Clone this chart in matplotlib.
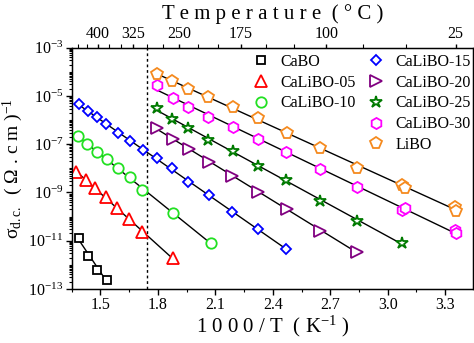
import numpy as np
import matplotlib
matplotlib.use("Agg")
import matplotlib.pyplot as plt
from matplotlib.lines import Line2D
from matplotlib.ticker import FixedLocator, NullFormatter, FuncFormatter

plt.rcParams['font.family'] = ['Liberation Serif', 'DejaVu Serif']
plt.rcParams['mathtext.fontset'] = 'custom'
plt.rcParams['mathtext.rm'] = 'Liberation Serif'
plt.rcParams['mathtext.it'] = 'Liberation Serif:italic'
plt.rcParams['mathtext.bf'] = 'Liberation Serif:bold'

# 1000/T (K^-1) and log10(sigma_dc)
cabo_x = [1.387, 1.436, 1.484, 1.536]
cabo_y = [-10.87, -11.63, -12.21, -12.63]

c05_x = [1.374, 1.426, 1.471, 1.527, 1.588, 1.649, 1.715, 1.880]
c05_y = [-8.14, -8.48, -8.83, -9.20, -9.66, -10.10, -10.63, -11.73]

c10_x = [1.385, 1.432, 1.480, 1.536, 1.591, 1.652, 1.719, 1.880, 2.075]
c10_y = [-6.66, -7.00, -7.31, -7.63, -8.00, -8.37, -8.90, -9.86, -11.08]

c15_x = [1.388, 1.435, 1.480, 1.531, 1.591, 1.652, 1.724, 1.793, 1.875,
         1.956, 2.066, 2.188, 2.320, 2.471]
c15_y = [-5.35, -5.62, -5.88, -6.17, -6.52, -6.87, -7.24, -7.58, -8.00,
         -8.55, -9.10, -9.80, -10.53, -11.34]

c20_x = [1.797, 1.878, 1.961, 2.066, 2.189, 2.322, 2.475, 2.645, 2.840]
c20_y = [-6.34, -6.78, -7.21, -7.72, -8.31, -8.96, -9.70, -10.58, -11.45]

c25_x = [1.793, 1.875, 1.958, 2.063, 2.190, 2.320, 2.471, 2.648, 2.840, 3.075]
c25_y = [-5.49, -5.97, -6.34, -6.83, -7.27, -7.90, -8.48, -9.34, -10.17, -11.08]

c30_x = [1.797, 1.878, 1.958, 2.063, 2.190, 2.320, 2.471, 2.645, 2.840,
         3.075, 3.092, 3.353, 3.355]
c30_y = [-4.55, -5.07, -5.45, -5.86, -6.27, -6.79, -7.32, -8.03, -8.79,
         -9.73, -9.66, -10.56, -10.69]

libo_x = [1.797, 1.875, 1.958, 2.063, 2.190, 2.320, 2.475, 2.645, 2.838,
          3.075, 3.092, 3.353, 3.357]
libo_y = [-4.09, -4.37, -4.72, -5.06, -5.45, -5.91, -6.52, -7.17, -8.00,
          -8.69, -8.80, -9.59, -9.77]

names = ['CaBO', 'CaLiBO-05', 'CaLiBO-10', 'CaLiBO-15', 'CaLiBO-20',
         'CaLiBO-25', 'CaLiBO-30', 'LiBO']
xs = [cabo_x, c05_x, c10_x, c15_x, c20_x, c25_x, c30_x, libo_x]
ys = [cabo_y, c05_y, c10_y, c15_y, c20_y, c25_y, c30_y, libo_y]
markers = ['s', '^', 'o', 'D', '>', '*', 'h', 'p']
sizes = [6.0, 8.0, 7.5, 5.6, 8.0, 9.0, 8.0, 8.5]
colors = ['black', '#ff0000', '#22e022', '#0000ff', '#800080', '#007a00',
          '#ff00ff', '#f58a1f']

temps_major = [400, 325, 250, 175, 100, 25]
temps_minor = list(range(450, 0, -25))

fig = plt.figure(figsize=(4.74, 3.43), dpi=100)
ax = fig.add_axes([0.1513, 0.1574, 0.8466, 0.7035])

handles = {}
for name, x, y, m, s, c in zip(names, xs, ys, markers, sizes, colors):
    x = np.array(x)
    y = np.array(y)
    p = np.polyfit(x, y, 1)
    xf = np.array([x.min(), x.max()])
    ax.plot(xf, 10 ** np.polyval(p, xf), color='black', lw=1.0, zorder=2)
    h, = ax.plot(x, 10 ** y, linestyle='none', marker=m, ms=s, mfc='white',
                 mec=c, mew=1.3, zorder=3, label=name)
    handles[name] = h

ax.axvline(1000 / (300 + 273.15), color='black', ls=(0, (2, 2)), lw=1.0,
           zorder=1)

ax.set_yscale('log')
ax.set_ylim(1e-13, 1e-3)
ax.set_xlim(1.35, 3.445)

ax.xaxis.set_major_locator(FixedLocator([1.5, 1.8, 2.1, 2.4, 2.7, 3.0, 3.3]))
ax.xaxis.set_minor_locator(FixedLocator([1.35, 1.65, 1.95, 2.25, 2.55, 2.85,
                                         3.15]))
ax.xaxis.set_major_formatter(FuncFormatter(lambda v, pos: f'{v:.1f}'))

ymaj = [10.0 ** e for e in range(-13, -2, 2)]
ymin = []
for e in range(-13, -3):
    for k in range(1, 10):
        if k == 1 and e % 2 != 0:
            continue
        ymin.append(k * 10.0 ** e)
ax.yaxis.set_major_locator(FixedLocator(ymaj))
ax.yaxis.set_minor_locator(FixedLocator(ymin))
ax.yaxis.set_minor_formatter(NullFormatter())
ax.yaxis.set_major_formatter(
    FuncFormatter(lambda v, pos: r'$\mathdefault{10^{%d}}$' % round(np.log10(v))))

ax.tick_params(which='major', direction='out', length=4, width=1.0,
               labelsize=11.5, pad=2)
ax.tick_params(which='minor', direction='out', length=2.5, width=0.8)
for sp in ax.spines.values():
    sp.set_linewidth(1.0)

ax2 = ax.twiny()
ax2.set_xlim(ax.get_xlim())
ax2.xaxis.set_major_locator(FixedLocator([1000 / (t + 273.15) for t in temps_major]))
ax2.xaxis.set_minor_locator(FixedLocator([1000 / (t + 273.15) for t in temps_minor]))
ax2.set_xticklabels([str(t) for t in temps_major])
ax2.tick_params(which='major', direction='out', length=3, width=1.0,
                labelsize=11.5, pad=1)
ax2.tick_params(which='minor', direction='out', length=3, width=0.8)

ax2.set_xlabel('T e m p e r a t u r e  ( ° C )', fontsize=15, labelpad=5)
ax.set_xlabel('1 0 0 0 / T  ( K$^{\\mathdefault{-1}}$ )', fontsize=15, labelpad=0)
ax.set_ylabel(r'$\mathdefault{\sigma}_{\mathdefault{d.c.}}$  ( Ω . c m )$^{\mathdefault{-1}}$',
              fontsize=14, labelpad=2)

blank = Line2D([], [], linestyle='none', marker='none')
order = [handles['CaBO'], handles['CaLiBO-05'], handles['CaLiBO-10'], blank, blank,
         handles['CaLiBO-15'], handles['CaLiBO-20'], handles['CaLiBO-25'],
         handles['CaLiBO-30'], handles['LiBO']]
labels = ['CaBO', 'CaLiBO-05', 'CaLiBO-10', '', '',
          'CaLiBO-15', 'CaLiBO-20', 'CaLiBO-25', 'CaLiBO-30', 'LiBO']
ax.legend(order, labels, ncol=2, loc='upper right', bbox_to_anchor=(0.995, 0.975),
          frameon=False, fontsize=11.5, handlelength=1.0, handletextpad=0.7,
          columnspacing=0.8, labelspacing=0.3, borderpad=0, borderaxespad=0)

fig.savefig('out.png', dpi=100)
